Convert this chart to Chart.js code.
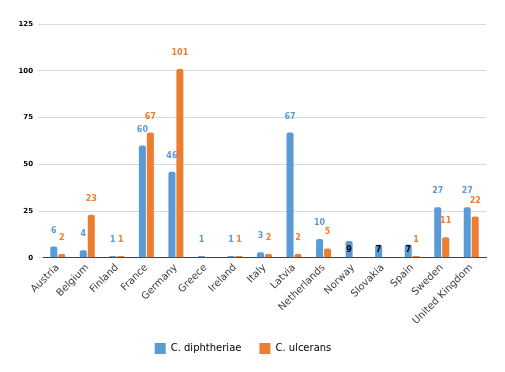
<!DOCTYPE html>
<html>
<head>
<meta charset="utf-8">
<script src="https://cdn.jsdelivr.net/npm/chart.js@4"></script>
<style>
  html, body { margin: 0; padding: 0; background: #fff; }
  #wrap { width: 505px; height: 372px; }
</style>
</head>
<body>
<div id="wrap"><canvas id="chart" width="505" height="372"></canvas></div>
<script>
const countries = ['Austria', 'Belgium', 'Finland', 'France', 'Germany', 'Greece', 'Ireland', 'Italy', 'Latvia', 'Netherlands', 'Norway', 'Slovakia', 'Spain', 'Sweden', 'United Kingdom'];
const diphtheriae = [6, 4, 1, 60, 46, 1, 1, 3, 67, 10, 9, 7, 7, 27, 27];
const ulcerans = [2, 23, 1, 67, 101, 0, 1, 2, 2, 5, 0, 0, 1, 11, 22];
// blue labels that sit inside the bar in black in the original
const insideLabels = ['Norway', 'Slovakia', 'Spain'];

const FONT = 'DejaVu Sans';

const valueLabels = {
  id: 'valueLabels',
  afterDatasetsDraw(chart) {
    const ctx = chart.ctx;
    const base = chart.scales.y.getPixelForValue(0);
    ctx.save();
    ctx.font = 'bold 8px ' + FONT;
    ctx.textAlign = 'center';
    ctx.textBaseline = 'middle';
    chart.data.datasets.forEach((ds, di) => {
      const meta = chart.getDatasetMeta(di);
      meta.data.forEach((bar, i) => {
        const v = ds.data[i];
        if (!v) return;
        if (di === 0 && insideLabels.includes(countries[i])) {
          ctx.fillStyle = '#000';
          ctx.fillText(v, bar.x, base - 8);
        } else {
          ctx.fillStyle = ds.backgroundColor;
          ctx.fillText(v, bar.x, bar.y - 16);
        }
      });
    });
    ctx.restore();
  }
};

new Chart(document.getElementById('chart'), {
  type: 'bar',
  data: {
    labels: countries,
    datasets: [
      { label: 'C. diphtheriae', data: diphtheriae, backgroundColor: '#5b9bd5' },
      { label: 'C. ulcerans', data: ulcerans, backgroundColor: '#ed7d31' }
    ]
  },
  options: {
    responsive: false,
    animation: false,
    layout: { padding: { top: 24, right: 19, left: 0, bottom: 8 } },
    datasets: {
      bar: {
        categoryPercentage: 0.54,
        barPercentage: 0.88,
        borderRadius: { topLeft: 2, topRight: 2 },
        borderSkipped: 'bottom'
      }
    },
    scales: {
      x: {
        clip: false,
        afterFit(scale) { scale.height -= 6; },
        grid: { display: false, drawTicks: false },
        border: { color: '#404040', width: 1 },
        ticks: {
          color: '#404040',
          font: { family: FONT, size: 10 },
          maxRotation: 45,
          minRotation: 45,
          padding: 4,
          autoSkip: false
        }
      },
      y: {
        min: 0,
        max: 125,
        afterFit(scale) { scale.width = 43; },
        grid: { color: '#d9d9d9', tickLength: 5, tickColor: '#d9d9d9' },
        border: { display: false },
        ticks: {
          stepSize: 25,
          color: '#000',
          padding: 5,
          font: { family: FONT, size: 7, weight: 'bold' }
        }
      }
    },
    plugins: {
      legend: {
        position: 'bottom',
        labels: {
          boxWidth: 11,
          boxHeight: 11,
          padding: 18,
          color: '#000',
          font: { family: FONT, size: 10 }
        }
      },
      tooltip: { enabled: false }
    }
  },
  plugins: [valueLabels]
});
</script>
</body>
</html>
